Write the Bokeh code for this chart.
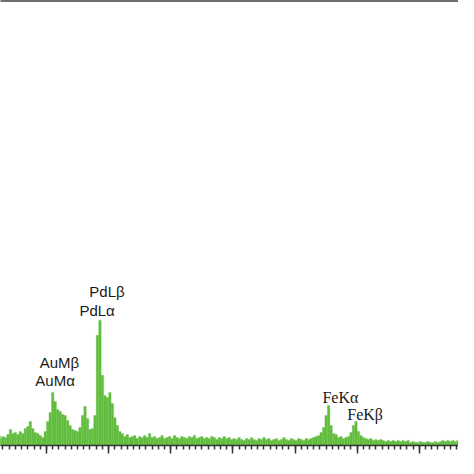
from bokeh.plotting import figure
from bokeh.models import Range1d, LinearAxis, SingleIntervalTicker, FixedTicker, CustomJSTickFormatter
from bokeh.core.properties import value
from bokeh.embed import file_html
from bokeh.resources import INLINE

# Energy channels (keV), 0.04 keV wide, starting at 1.14 keV
start_kev = 1.14
step_kev = 0.04
counts = [
    10, 9, 7, 7, 9, 8, 11, 16, 12, 13,
    11, 14, 12, 17, 19, 24, 17, 13, 12, 10,
    8, 14, 24, 33, 53, 44, 36, 34, 31, 30,
    25, 20, 16, 15, 14, 18, 30, 39, 27, 16,
    17, 30, 110, 125, 70, 50, 48, 53, 42, 28,
    20, 14, 12, 9, 11, 8, 9, 10, 7, 9,
    8, 10, 8, 12, 8, 9, 7, 8, 10, 7,
    8, 9, 7, 10, 8, 7, 9, 8, 7, 9,
    8, 10, 7, 8, 9, 7, 8, 7, 9, 8,
    6, 8, 7, 9, 7, 8, 6, 7, 6, 8,
    6, 5, 7, 6, 8, 6, 5, 7, 6, 8,
    6, 7, 5, 6, 7, 5, 6, 8, 6, 5,
    7, 6, 5, 7, 6, 5, 7, 6, 7, 8,
    9, 10, 13, 18, 30, 40, 20, 12, 11, 8,
    9, 7, 8, 9, 13, 20, 24, 14, 10, 8,
    7, 6, 7, 5, 6, 5, 6, 5, 4, 5,
    4, 5, 4, 5, 4, 5, 4, 5, 3, 4,
    3, 3, 4, 3, 3, 4, 3, 3, 4, 3,
    4, 5, 4, 5, 4, 5, 4, 5, 4, 5,
    4,
]
energy = [start_kev + step_kev * i for i in range(len(counts))]

# Peak labels
sans_labels = ["PdL\u03b2", "PdL\u03b1", "AuM\u03b2", "AuM\u03b1"]
sans_x = [2.69, 2.53, 1.89, 1.82]
sans_y = [154, 135, 83, 65]
serif_labels = ["FeK\u03b1", "FeK\u03b2"]
serif_x = [6.44, 6.84]
serif_y = [48, 31]

p = figure(width=458, height=458, output_backend="svg", toolbar_location=None,
           x_range=Range1d(1.26, 8.63), y_range=Range1d(0, 444),
           min_border_left=0, min_border_right=0, min_border_top=0,
           min_border_bottom=13, y_axis_location=None)
p.outline_line_color = None
p.grid.visible = False
p.background_fill_color = "white"
p.border_fill_color = "white"

p.vbar(x=energy, top=counts, width=step_kev, bottom=0,
       fill_color="#62bd3f", line_color="#62bd3f", line_width=0.3)

ax = p.xaxis[0]
ax.ticker = SingleIntervalTicker(interval=1, num_minor_ticks=10)
ax.formatter = CustomJSTickFormatter(code="return ''")
ax.major_label_standoff = 0
ax.axis_line_color = "#333333"
ax.axis_line_width = 1.5
ax.major_tick_line_color = "#333333"
ax.major_tick_line_width = 1.5
ax.minor_tick_line_color = "#333333"
ax.minor_tick_line_width = 1.5
ax.major_tick_in = 0
ax.major_tick_out = 8
ax.minor_tick_in = 0
ax.minor_tick_out = 4

top = LinearAxis(ticker=FixedTicker(ticks=[]), major_label_standoff=0,
                 major_tick_out=0, major_tick_in=0, minor_tick_out=0, minor_tick_in=0,
                 major_tick_line_color=None, minor_tick_line_color=None,
                 axis_line_color="#6e6e6e", axis_line_width=3)
p.add_layout(top, "above")

p.text(x=sans_x, y=sans_y, text=sans_labels, text_font=value("Liberation Sans"),
       text_font_size="15px", text_color="#1a1a1a", text_align="left",
       text_baseline="middle")
p.text(x=serif_x, y=serif_y, text=serif_labels, text_font=value("Liberation Serif"),
       text_font_size="16px", text_color="#1a1a1a", text_align="left",
       text_baseline="middle")

open("out.html", "w").write(file_html(p, INLINE))
